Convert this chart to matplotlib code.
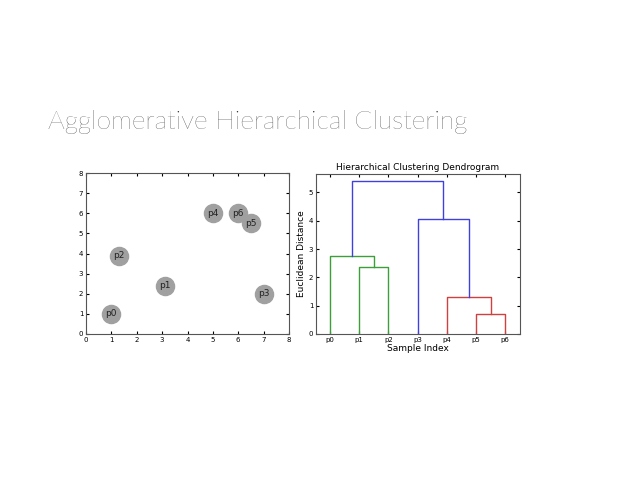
import matplotlib
matplotlib.use("Agg")
import matplotlib.pyplot as plt

labels = ["p0", "p1", "p2", "p3", "p4", "p5", "p6"]
xs = [1, 3.1, 1.3, 7, 5, 6.5, 6]
ys = [1, 2.4, 3.9, 2, 6, 5.5, 6]

link_h = [0.72, 1.3, 2.35, 2.75, 4.05, 5.4]

W, H = 638, 493
fig = plt.figure(figsize=(W/100, H/100), dpi=100)
fig.text(48/W, 1-122/H, "Agglomerative Hierarchical Clustering", fontsize=19,
         family="Lato", fontweight="light", va="center", ha="left", color="#222222")

def ax_at(l, t, r, b):
    return fig.add_axes([l/W, 1-b/H, (r-l)/W, (b-t)/H])

ax1 = ax_at(86, 173, 289, 334)
ax1.scatter(xs, ys, s=170, color="#a0a0a0", zorder=2)
for x, y, l in zip(xs, ys, labels):
    ax1.text(x, y, l, ha="center", va="center", fontsize=6.5, color="#222")
ax1.set_xlim(0, 8); ax1.set_ylim(0, 8)
ax1.set_xticks(range(9)); ax1.set_yticks(range(9))

ax2 = ax_at(316, 174, 520, 334)
def u(x1, x2, h1, h2, top, c):
    ax2.plot([x1, x1, x2, x2], [h1, top, top, h2], color=c, lw=1)
g, r, b = "#3c9f3c", "#d04040", "#4040e0"
u(5, 6, 0, 0, link_h[0], r)
u(4, 5.5, 0, link_h[0], link_h[1], r)
u(1, 2, 0, 0, link_h[2], g)
u(0, 1.5, 0, link_h[2], link_h[3], g)
u(3, 4.75, 0, link_h[1], link_h[4], b)
u(0.75, 3.875, link_h[3], link_h[4], link_h[5], b)
ax2.set_xlim(-0.48, 6.51); ax2.set_ylim(0, 5.65)
ax2.set_xticks(range(7)); ax2.set_xticklabels(labels)
ax2.set_yticks(range(6))
ax2.set_title("Hierarchical Clustering Dendrogram", fontsize=6.5, pad=3)
ax2.set_xlabel("Sample Index", fontsize=6.5, labelpad=1)
ax2.set_ylabel("Euclidean Distance", fontsize=6.5, labelpad=2)

for ax in (ax1, ax2):
    ax.tick_params(labelsize=5, length=2, pad=2, direction="in", top=True, right=True)
    for s in ax.spines.values():
        s.set_color("#555"); s.set_linewidth(0.8)

fig.savefig("out.png", dpi=100)
